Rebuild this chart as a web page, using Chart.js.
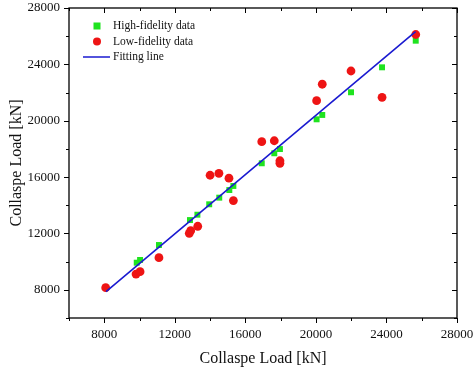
<!DOCTYPE html>
<html><head><meta charset="utf-8">
<script src="https://cdn.jsdelivr.net/npm/chart.js@4.4.0/dist/chart.umd.min.js"></script>
<style>html,body{margin:0;padding:0;background:#fff}</style>
</head><body>
<canvas id="c" width="474" height="367"></canvas>
<script>
const highX = [9840,10030,11100,12860,13280,13950,14520,15090,15320,16930,17640,17960,20040,20360,21990,23750,25660];
const highY = [9925,10120,11180,12950,13330,14070,14540,15080,15370,16980,17690,17990,20100,20410,22020,23790,25680];
const lowX = [8080,9800,10030,11100,12820,12900,13300,14000,14500,15070,15320,16930,17640,17960,17960,20040,20360,21990,23750,25660];
const lowY = [8150,9120,9290,10280,12010,12200,12510,16130,16270,15920,14330,18510,18580,17160,16980,21420,22590,23530,21660,26120];
const fitX = [8100,25650];
const fitY = [7870,26320];
const tickLabels = [8000,12000,16000,20000,24000,28000];
const seriesNames = ['Fitting line','Low-fidelity data','High-fidelity data'];

const FONT = "'Liberation Serif','Times New Roman',serif";
const GREEN = '#1fe31f', RED = '#ee1414', BLUE = '#1a1ad0';

function pts(xs, ys){ return xs.map((x,i)=>({x:x,y:ys[i]})); }

const framePlugin = {
  id:'frame',
  afterDraw(chart){
    const ctx = chart.ctx, a = chart.chartArea;
    const xs = chart.scales.x, ys = chart.scales.y;
    ctx.save();
    ctx.strokeStyle = '#000';
    ctx.lineWidth = 1.3;
    ctx.strokeRect(a.left, a.top, a.right-a.left, a.bottom-a.top);
    ctx.lineWidth = 1;
    for (let v = xs.min; v <= xs.max; v += 2000) {
      const p = Math.round(xs.getPixelForValue(v)) + 0.5;
      const len = (v % 4000 === 0) ? 5 : 3;
      ctx.beginPath();
      ctx.moveTo(p, a.bottom); ctx.lineTo(p, a.bottom + len);
      ctx.moveTo(p, a.top); ctx.lineTo(p, a.top + len);
      ctx.stroke();
    }
    for (let v = ys.min; v <= ys.max; v += 2000) {
      const p = Math.round(ys.getPixelForValue(v)) + 0.5;
      const len = (v % 4000 === 0) ? 5 : 3;
      ctx.beginPath();
      ctx.moveTo(a.left - len, p); ctx.lineTo(a.left, p);
      ctx.moveTo(a.right - len, p); ctx.lineTo(a.right, p);
      ctx.stroke();
    }
    // legend
    const lx = a.left + 28, ly = a.top + 18, gap = 15.5;
    ctx.font = "11.5px " + FONT;
    ctx.textBaseline = 'middle';
    const order = [2,1,0];
    order.forEach((di, i) => {
      const y = ly + i*gap;
      const ds = chart.data.datasets[di];
      if (di === 2) { ctx.fillStyle = GREEN; ctx.fillRect(lx-3.5, y-3.5, 7, 7); }
      else if (di === 1) { ctx.fillStyle = RED; ctx.beginPath(); ctx.arc(lx, y, 4, 0, Math.PI*2); ctx.fill(); }
      else { ctx.strokeStyle = BLUE; ctx.lineWidth = 1.5; ctx.beginPath(); ctx.moveTo(lx-14, y); ctx.lineTo(lx+13, y); ctx.stroke(); }
      ctx.fillStyle = '#111';
      ctx.fillText(ds.label, lx + 16, y);
    });
    ctx.restore();
  }
};

new Chart(document.getElementById('c'), {
  type: 'scatter',
  data: {
    datasets: [
      { label: seriesNames[0], data: pts(fitX, fitY), showLine: true, borderColor: BLUE, borderWidth: 1.6, pointRadius: 0, fill: false },
      { label: seriesNames[1], data: pts(lowX, lowY), pointStyle: 'circle', pointRadius: 4.4, backgroundColor: RED, borderColor: RED, borderWidth: 0 },
      { label: seriesNames[2], data: pts(highX, highY), pointStyle: 'rect', pointRadius: 4.2, backgroundColor: GREEN, borderColor: GREEN, borderWidth: 0 }
    ]
  },
  options: {
    responsive: false,
    animation: false,
    layout: { autoPadding: false, padding: { top: 8, right: 17, left: 0, bottom: 0 } },
    plugins: { legend: { display: false }, tooltip: { enabled: false } },
    scales: {
      x: {
        type: 'linear', min: 6000, max: 28000,
        grid: { display: false, drawTicks: false, tickLength: 0 },
        border: { display: false },
        ticks: { stepSize: 2000, autoSkip: false, maxRotation: 0, padding: 9, color: '#111', font: { family: FONT, size: 13 },
          callback: v => tickLabels.includes(v) ? String(v) : '' },
        title: { display: true, text: 'Collaspe Load [kN]', color: '#111', font: { family: FONT, size: 16, lineHeight: 1.0 }, padding: { top: 0, bottom: 0 } },
        afterFit: s => { s.height = 49; s.paddingLeft = 0; s.paddingRight = 0; }
      },
      y: {
        type: 'linear', min: 6000, max: 28000,
        grid: { display: false, drawTicks: false, tickLength: 0 },
        border: { display: false },
        ticks: { stepSize: 2000, autoSkip: false, padding: 9, color: '#111', font: { family: FONT, size: 13 },
          callback: v => tickLabels.includes(v) ? String(v) : '' },
        title: { display: true, text: 'Collaspe Load [kN]', color: '#111', font: { family: FONT, size: 16 }, padding: { top: 7, bottom: 0 } },
        afterFit: s => { s.width = 69; s.paddingTop = 0; s.paddingBottom = 0; }
      }
    }
  },
  plugins: [framePlugin]
});
</script>
</body></html>
